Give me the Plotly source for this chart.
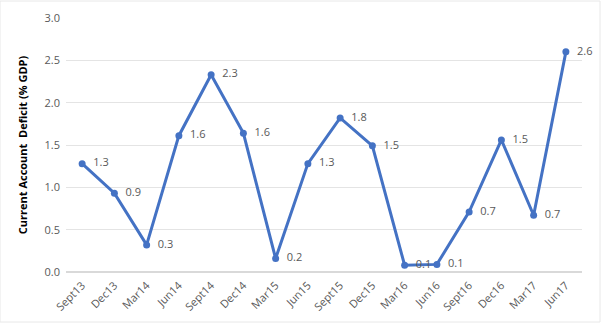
import plotly.graph_objects as go

quarters = ["Sept13", "Dec13", "Mar14", "Jun14", "Sept14", "Dec14", "Mar15", "Jun15",
            "Sept15", "Dec15", "Mar16", "Jun16", "Sept16", "Dec16", "Mar17", "Jun17"]
deficit = [1.28, 0.93, 0.32, 1.61, 2.33, 1.64, 0.16, 1.28,
           1.82, 1.49, 0.08, 0.09, 0.71, 1.56, 0.67, 2.60]
labels = ["1.3", "0.9", "0.3", "1.6", "2.3", "1.6", "0.2", "1.3",
          "1.8", "1.5", "0.1", "0.1", "0.7", "1.5", "0.7", "2.6"]
y_ticks = [0.0, 0.5, 1.0, 1.5, 2.0, 2.5, 3.0]

fig = go.Figure()
fig.add_trace(go.Scatter(
    x=quarters, y=deficit, mode="lines+markers+text",
    text=["  " + t for t in labels], textposition="middle right",
    textfont=dict(family="Open Sans, Liberation Sans, sans-serif", size=11, color="#595959"),
    line=dict(color="#4472C4", width=3),
    marker=dict(color="#4472C4", size=7),
    cliponaxis=False, showlegend=False,
))

fig.update_layout(
    width=601, height=323,
    margin=dict(l=66, r=19, t=18, b=51),
    paper_bgcolor="white", plot_bgcolor="white",
    font=dict(family="Open Sans, Liberation Sans, sans-serif", color="#595959"),
)
fig.update_xaxes(
    type="category", tickangle=-45, tickfont=dict(size=11, color="#595959"),
    showgrid=False, showline=False, ticks="", range=[-0.5, 15.5],
    ticklabelstandoff=4, automargin=False,
)
fig.update_yaxes(
    range=[0, 3.0], tickvals=y_ticks, ticktext=[f"{v:.1f}" for v in y_ticks],
    tickfont=dict(size=11, color="#595959"),
    showgrid=True, gridcolor="#e4e4e4", gridwidth=1, zeroline=True, zerolinecolor="#d9d9d9",
    ticks="", ticklabelstandoff=5, automargin=False,
    title=dict(text="<b>Current Account  Deficit (% GDP)</b>",
               font=dict(size=11, color="#000000"), standoff=14),
)
fig.add_shape(type="rect", xref="paper", yref="paper", x0=-66/516, x1=1+18/516,
              y0=-50/254, y1=1+17/254, line=dict(color="#e8e8e8", width=1))

fig.write_html("out.html")
